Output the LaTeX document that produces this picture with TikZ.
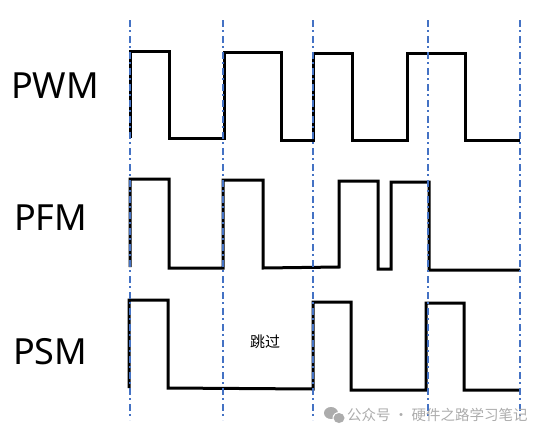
\documentclass[tikz,border=0pt]{standalone}
\usepackage{fontspec}
\setmainfont{Noto Sans}
\newfontfamily\cjkfont{Noto Sans CJK SC}
\usepackage{xcolor}
\usepackage{tikz}
\usetikzlibrary{positioning}
\definecolor{gridblue}{RGB}{68,114,196}
\definecolor{wavedark}{RGB}{0,0,0}
\definecolor{markgray}{RGB}{172,172,172}
\tikzset{
  wave/.style={line width=3pt, color=wavedark, line join=miter},
  slotline/.style={line width=1.6pt, color=gridblue,
    dash pattern=on 7pt off 3pt on 2pt off 4pt},
  modelbl/.style={font=\fontsize{36}{40}\selectfont, anchor=west, inner sep=0pt},
  skiplbl/.style={font=\cjkfont\fontsize{15}{17}\selectfont, inner sep=0pt},
  marklbl/.style={font=\cjkfont\fontsize{14.5}{16}\selectfont, color=markgray,
    anchor=west, inner sep=0pt}
}

\begin{document}
\begin{tikzpicture}[x=1pt, y=-1pt]
\useasboundingbox (0,0) rectangle (551,437);
% labels
\node[modelbl] (pwm) at (11,86) {PWM};
\node[modelbl] (pfm) at (14,218) {PFM};
\node[modelbl] (psm) at (13,352) {PSM};
% PWM
\draw[wave] (130,138) -- (130,51) -- (169,51) -- (169,138) -- (224,138)
  -- (224,52) -- (281,52) -- (281,140) -- (313,140) -- (313,53) -- (352,53)
  -- (352,140) -- (407,140) -- (407,53) -- (465,53) -- (465,140) -- (520,140);
% PFM
\draw[wave] (130,267) -- (130,179) -- (169,179) -- (169,268) -- (223,268)
  -- (223,180) -- (263,180) -- (263,268) -- (339,267) -- (339,181) -- (378,181)
  -- (378,269) -- (391,269) -- (391,182) -- (429,182) -- (429,270) -- (520,270);
% PSM
\draw[wave] (129,388) -- (129,300) -- (168,300) -- (168,388) -- (313,389)
  -- (313,302) -- (351,302) -- (351,390) -- (426,390) -- (426,303) -- (464,303)
  -- (464,390) -- (519,390);
\node[skiplbl] (skip) at (265,342) {跳过};
% slots
\foreach \sx in {130,223,313,428,520}
  \draw[slotline] (\sx,20) -- (\sx,420);
% mark
\fill[markgray] (331,413) ellipse (7pt and 6pt);
\fill[white] (339,418) ellipse (6.5pt and 6pt);
\fill[markgray] (339,418) ellipse (5.5pt and 5pt);
\node[marklbl] (mark) at (347,415) {公众号 · 硬件之路学习笔记};
\end{tikzpicture}
\end{document}
